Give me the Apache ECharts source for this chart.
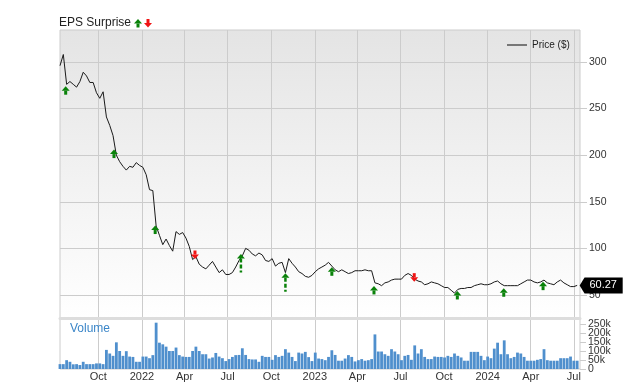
<!DOCTYPE html>
<html>
<head>
<meta charset="utf-8">
<script src="https://cdn.jsdelivr.net/npm/echarts@6/dist/echarts.min.js"></script>
<style>html,body{margin:0;padding:0;background:#fff}#c{width:640px;height:382px}</style>
</head>
<body>
<div id="c"></div>
<script>
// ---- data ----
const startDate = [2021, 6, 12]; // first weekly bar (local date: 2021-07-12)
const priceValues = [296,308,276,279,276,273,279,289,285,278,278,267,261,268,241,232,221,200,193,188,
184,188,187,192,189,187,179,163,162,124,114,104,110,103,97,118,115,117,111,102,
88,91,83,80,78,82,86,80,74,77,72,72,74,80,87,92,100,98,94,92,
95,93,87,86,89,81,84,85,74,89,84,80,75,73,70,69,71,75,78,80,
82,85,81,77,75,77,75,73,74,76,76,76,77,76,76,63,62,60,63,64,
66,67,67,67,71,73,71,67,65,64,61,62,64,63,62,60,58,58,55,52,
56,57,57,58,58,60,61,62,61,61,62,64,65,62,60,60,60,60,60,62,
64,66,66,64,63,64,66,63,62,61,64,66,63,61,59,59,60.27];
const volumeK = [27,27,49,40,26,27,22,40,27,27,27,31,31,27,106,86,73,148,100,73,
99,69,67,40,40,69,69,60,77,257,146,137,124,100,100,119,77,69,67,67,
100,124,100,82,82,58,64,89,69,60,44,55,67,77,78,115,78,55,53,53,
40,73,67,67,51,77,67,73,110,91,67,44,91,86,95,66,44,91,58,
55,49,67,104,78,46,46,58,77,67,42,49,55,46,49,55,192,97,97,82,
73,110,97,82,49,73,78,51,131,86,110,67,55,55,69,67,67,64,73,67,
86,73,64,46,46,95,95,95,73,49,69,60,113,146,82,159,82,60,67,91,
86,67,46,46,46,51,55,110,49,46,46,46,60,60,60,69,46,46];
const quarterTicks = ['2021-10-01','2022-01-01','2022-04-01','2022-07-01','2022-10-01','2023-01-01','2023-04-01','2023-07-01','2023-10-01','2024-01-01','2024-04-01','2024-07-01'];
const priceTicks = [50,100,150,200,250,300];
const volumeTicksEven = [0,100000,200000];
const volumeTicksOdd = [50000,150000,250000];
const epsDates = ['2021-07-24','2021-11-03','2022-01-29','2022-04-23','2022-07-29','2022-10-31','2023-02-06','2023-05-06','2023-07-30','2023-10-29','2024-02-04','2024-04-27'];
const epsMarkPrice = [274,206,124.5,88.6,94,73.3,79.7,59.7,64.3,54.3,57.2,64.3];
const epsStemEnd = [null,null,null,null,74,53.5,null,null,null,null,null,null];
const epsSurprise = ['up','up','up','down','up','up','up','up','down','up','up','up'];
const lastPriceLabel = '60.27';

// ---- helpers ----
function parseDay(s){ const a = s.split('-').map(Number); return new Date(a[0], a[1]-1, a[2]).getTime(); }
const weekDates = priceValues.map((_, i) => new Date(startDate[0], startDate[1], startDate[2] + 7*i).getTime());
const xMin = new Date(2021, 6, 12).getTime();
const xMax = new Date(2024, 6, 14).getTime();
const qTicks = quarterTicks.map(parseDay);
const monthNames = ['Jan','Feb','Mar','Apr','May','Jun','Jul','Aug','Sep','Oct','Nov','Dec'];
function qLabel(v){ const d = new Date(v); return d.getMonth() === 0 ? String(d.getFullYear()) : monthNames[d.getMonth()]; }

const GREEN = '#0a820a', RED = '#f01414';
const font = 'Liberation Sans, Arial, sans-serif';
const volFmt = v => v === 0 ? '0' : (v / 1000) + 'k';
function volAxis(ticks){
  return {type: 'value', gridIndex: 1, position: 'right', min: 0, max: 283000,
    axisLine: {show: false},
    axisTick: {show: true, length: 6, customValues: ticks, lineStyle: {color: '#ccc'}},
    axisLabel: {customValues: ticks, color: '#333', fontSize: 10.5, margin: 8, fontFamily: font, hideOverlap: false,
      formatter: volFmt},
    splitLine: {show: false}};
}

const chart = echarts.init(document.getElementById('c'), null, {renderer: 'canvas'});
chart.setOption({
  animation: false,
  textStyle: {fontFamily: font},
  title: {text: 'EPS Surprise', left: 59, top: 17, padding: 0,
    textStyle: {fontSize: 12, fontWeight: 'normal', color: '#222', fontFamily: font}},
  graphic: [
    {type: 'group', left: 134, top: 19, children: [
      {type: 'polygon', shape: {points: [[4,0],[0,4.5],[8,4.5]]}, style: {fill: GREEN}},
      {type: 'rect', shape: {x: 2.5, y: 4.5, width: 3, height: 4}, style: {fill: GREEN}}
    ]},
    {type: 'group', left: 144, top: 19, children: [
      {type: 'rect', shape: {x: 2.5, y: 0, width: 3, height: 4}, style: {fill: RED}},
      {type: 'polygon', shape: {points: [[0,4],[8,4],[4,8.5]]}, style: {fill: RED}}
    ]},
    {type: 'text', left: 70, top: 323, z: 10, style: {text: 'Volume', fill: '#3b86c8', font: '12px ' + font}}
  ],
  legend: {
    left: 502, top: 35, itemWidth: 20, itemHeight: 2, itemGap: 4, icon: 'rect',
    textStyle: {fontSize: 10, color: '#222', fontFamily: font},
    data: [{name: 'Price ($)', itemStyle: {color: '#777'}}]
  },
  grid: [
    {left: 60, right: 60, top: 30, height: 288, show: true, borderColor: '#ccc', borderWidth: 1,
     backgroundColor: {type: 'linear', x: 0, y: 0, x2: 0, y2: 1,
       colorStops: [{offset: 0, color: '#e4e4e4'}, {offset: 1, color: '#ffffff'}]}},
    {left: 60, right: 60, top: 318, height: 52, show: true, borderColor: '#ccc', borderWidth: 1, backgroundColor: '#fff'}
  ],
  xAxis: [
    {type: 'value', gridIndex: 0, min: xMin, max: xMax,
     axisLine: {show: true, onZero: false, lineStyle: {color: '#ddd', width: 3}},
     axisTick: {show: false, customValues: qTicks},
     axisLabel: {show: false, customValues: qTicks},
     splitLine: {show: true, lineStyle: {color: '#ccc', width: 1}}},
    {type: 'value', gridIndex: 1, min: xMin, max: xMax,
     axisLine: {show: false},
     axisTick: {show: false, customValues: qTicks},
     axisLabel: {show: true, customValues: qTicks, formatter: qLabel, color: '#333', fontSize: 11, margin: 2, fontFamily: font, hideOverlap: false},
     splitLine: {show: true, lineStyle: {color: '#ccc', width: 1}}}
  ],
  yAxis: [
    {type: 'value', gridIndex: 0, position: 'right', min: 25.3, max: 334.3,
     axisLine: {show: false},
     axisTick: {show: true, length: 7, customValues: priceTicks, lineStyle: {color: '#ccc'}},
     axisLabel: {customValues: priceTicks, color: '#333', fontSize: 10.5, margin: 9, fontFamily: font, hideOverlap: false},
     splitLine: {show: true, lineStyle: {color: '#ccc', width: 1}}},
    volAxis(volumeTicksEven),
    volAxis(volumeTicksOdd)
  ],
  series: [
    {name: 'Price ($)', type: 'line', xAxisIndex: 0, yAxisIndex: 0, showSymbol: false, symbol: 'none',
     lineStyle: {color: '#1a1a1a', width: 1}, itemStyle: {color: '#777'},
     data: weekDates.map((d, i) => [d, priceValues[i]]), z: 3,
     markPoint: {
       symbol: 'path://M0,8 L5,0 L44,0 L44,16 L5,16 Z', symbolSize: [43, 16], symbolKeepAspect: false,
       itemStyle: {color: '#000'},
       label: {show: true, color: '#fff', fontSize: 11, fontFamily: font, offset: [2, 0]},
       data: [{coord: [weekDates[weekDates.length - 1], priceValues[priceValues.length - 1]],
               symbolOffset: [24, 0], value: lastPriceLabel, label: {formatter: lastPriceLabel}}]
     }},
    {name: 'EPS', type: 'custom', xAxisIndex: 0, yAxisIndex: 0, z: 4,
     data: epsDates.map((d, i) => [parseDay(d), epsMarkPrice[i]]),
     renderItem: function (params, api) {
       const i = params.dataIndex;
       const p = api.coord([api.value(0), api.value(1)]);
       const x = p[0], y = p[1];
       const ch = [];
       if (epsSurprise[i] === 'up') {
         ch.push({type: 'polygon', shape: {points: [[x, y], [x - 4, y + 4.5], [x + 4, y + 4.5]]}, style: {fill: GREEN}});
         if (epsStemEnd[i] != null) {
           const e = api.coord([api.value(0), epsStemEnd[i]]);
           ch.push({type: 'line', shape: {x1: x, y1: y + 4.5, x2: x, y2: e[1]}, style: {stroke: GREEN, lineWidth: 2.5, lineDash: [4, 2]}});
         } else {
           ch.push({type: 'rect', shape: {x: x - 1.5, y: y + 4.5, width: 3, height: 4}, style: {fill: GREEN}});
         }
       } else {
         ch.push({type: 'rect', shape: {x: x - 1.5, y: y - 8.5, width: 3, height: 4}, style: {fill: RED}});
         ch.push({type: 'polygon', shape: {points: [[x, y], [x - 4, y - 4.5], [x + 4, y - 4.5]]}, style: {fill: RED}});
       }
       return {type: 'group', children: ch};
     }},
    {name: 'Volume', type: 'bar', xAxisIndex: 1, yAxisIndex: 1, barWidth: 2.8,
     itemStyle: {color: '#4f8fcd'},
     data: weekDates.map((d, i) => [d, volumeK[i] * 1000])}
  ]
});
</script>
</body>
</html>
